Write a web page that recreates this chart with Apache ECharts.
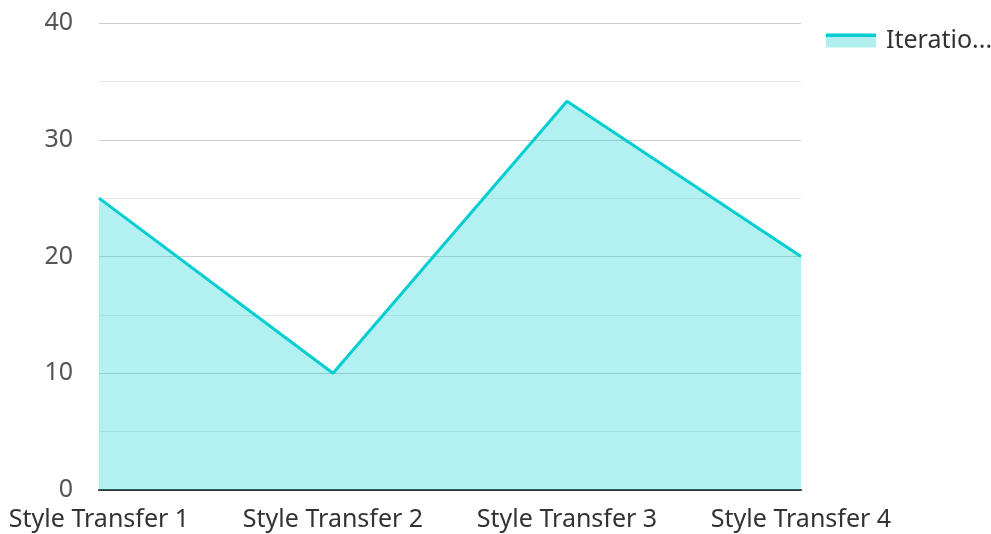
<!DOCTYPE html>
<html>
<head>
<meta charset="utf-8">
<script src="https://cdn.jsdelivr.net/npm/echarts@6/dist/echarts.min.js"></script>
<style>
html, body { margin: 0; padding: 0; background: #fff; }
#chart { width: 991px; height: 534px; }
</style>
</head>
<body>
<div id="chart"></div>
<script>
var categories = ['Style Transfer 1', 'Style Transfer 2', 'Style Transfer 3', 'Style Transfer 4'];
var seriesName = 'Iteration';
var values = [25, 10, 33.3, 20];

var chart = echarts.init(document.getElementById('chart'));
var option = {
    animation: false,
    color: ['#00CED1'],
    textStyle: { fontFamily: 'Noto Sans' },
    legend: {
        left: 821,
        top: 23,
        itemWidth: 50,
        itemHeight: 14,
        itemGap: 10,
        // the legend name is cut short in the original
        formatter: function (name) {
            return name.length > 8 ? name.slice(0, 8) + '...' : name;
        },
        textStyle: {
            fontSize: 25,
            color: '#333',
            padding: [0, 0, 0, 5]
        },
        data: [{
            name: seriesName,
            icon: 'rect',
            itemStyle: {
                color: {
                    type: 'linear', x: 0, y: 0, x2: 0, y2: 1,
                    colorStops: [
                        { offset: 0, color: '#00CED1' },
                        { offset: 0.28, color: '#00CED1' },
                        { offset: 0.28, color: '#B2EFF0' },
                        { offset: 1, color: '#B2EFF0' }
                    ]
                }
            }
        }]
    },
    grid: {
        left: 99,
        right: 190,
        top: 23,
        bottom: 44
    },
    xAxis: {
        type: 'category',
        data: categories,
        boundaryGap: false,
        axisLine: { lineStyle: { color: '#333', width: 2 } },
        axisTick: { show: false },
        axisLabel: { fontSize: 25, color: '#333', margin: 17, interval: 0 }
    },
    yAxis: {
        type: 'value',
        min: 0,
        max: 40,
        interval: 10,
        axisLine: { show: false },
        axisTick: { show: false },
        axisLabel: { fontSize: 25, color: '#555', margin: 26 },
        splitLine: { lineStyle: { color: '#ccc', width: 1 } },
        minorTick: { show: false, splitNumber: 2 },
        minorSplitLine: { show: true, lineStyle: { color: '#e8e8e8', width: 1 } }
    },
    series: [
        {
            name: seriesName,
            type: 'line',
            data: values,
            symbol: 'none',
            lineStyle: { width: 3, color: '#00CED1' },
            areaStyle: { color: '#00CED1', opacity: 0.3 }
        }
    ]
};
chart.setOption(option);
</script>
</body>
</html>
